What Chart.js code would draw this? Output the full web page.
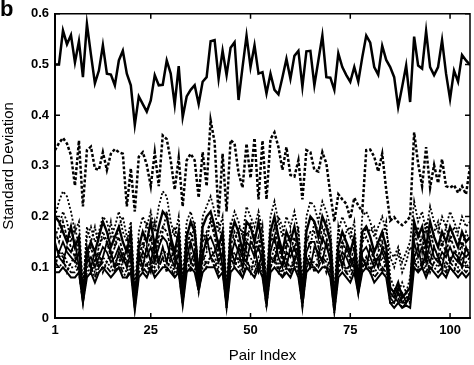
<!DOCTYPE html>
<html>
<head>
<meta charset="utf-8">
<script src="https://cdn.jsdelivr.net/npm/chart.js@4.4.1/dist/chart.umd.min.js"></script>
<style>
  html, body { margin: 0; padding: 0; background: #fff; }
  #wrap { position: relative; width: 474px; height: 365px; }
</style>
</head>
<body>
<div id="wrap"><canvas id="sdChart" width="474" height="365"></canvas></div>
<script>
// pair index 1..105
const pairIndex = [];
for (let i = 1; i <= 105; i++) pairIndex.push(i);

const xTickValues = [1, 25, 50, 75, 100];
const yTickValues = [0, 0.1, 0.2, 0.3, 0.4, 0.5, 0.6];

// top solid curve
const sdTop = [
  0.50, 0.50, 0.567, 0.540, 0.558, 0.504, 0.546, 0.475, 0.580, 0.52,
  0.463, 0.488, 0.538, 0.482, 0.480, 0.459, 0.508, 0.527, 0.482, 0.459,
  0.381, 0.437, 0.422, 0.407, 0.429, 0.479, 0.459, 0.460, 0.508, 0.482,
  0.421, 0.497, 0.396, 0.437, 0.450, 0.459, 0.422, 0.466, 0.475, 0.546,
  0.548, 0.472, 0.527, 0.479, 0.533, 0.544, 0.430, 0.495, 0.557, 0.495,
  0.538, 0.482, 0.485, 0.443, 0.482, 0.450, 0.441, 0.475, 0.511, 0.472,
  0.517, 0.527, 0.456, 0.526, 0.527, 0.459, 0.508, 0.557, 0.475, 0.474,
  0.450, 0.522, 0.495, 0.479, 0.466, 0.495, 0.466, 0.514, 0.557, 0.543,
  0.495, 0.480, 0.537, 0.509, 0.495, 0.475, 0.416, 0.456, 0.498, 0.426,
  0.555, 0.498, 0.492, 0.566, 0.495, 0.479, 0.495, 0.548, 0.482, 0.432,
  0.488, 0.466, 0.519, 0.508, 0.499
];

// heavy dashed curve around 0.3
const sdDashed = [
  0.331, 0.345, 0.355, 0.344, 0.321, 0.261, 0.350, 0.22, 0.331, 0.338,
  0.295, 0.292, 0.327, 0.292, 0.324, 0.333, 0.327, 0.324, 0.22, 0.295,
  0.21, 0.318, 0.327, 0.302, 0.260, 0.327, 0.260, 0.360, 0.353, 0.311,
  0.253, 0.316, 0.22, 0.311, 0.324, 0.311, 0.237, 0.327, 0.260, 0.390,
  0.347, 0.20, 0.324, 0.21, 0.351, 0.344, 0.286, 0.257, 0.344, 0.276,
  0.355, 0.234, 0.350, 0.234, 0.353, 0.366, 0.337, 0.292, 0.337, 0.282,
  0.279, 0.311, 0.234, 0.331, 0.327, 0.292, 0.289, 0.327, 0.305, 0.245,
  0.19, 0.244, 0.234, 0.225, 0.196, 0.237, 0.222, 0.21, 0.331, 0.332,
  0.318, 0.289, 0.324, 0.253, 0.192, 0.199, 0.189, 0.183, 0.19, 0.20,
  0.366, 0.305, 0.260, 0.337, 0.257, 0.302, 0.266, 0.313, 0.260, 0.257,
  0.262, 0.247, 0.260, 0.244, 0.299
];

const sdL1 = [
  0.20, 0.23, 0.25, 0.24, 0.21, 0.17, 0.19, 0.06, 0.16, 0.18,
  0.15, 0.17, 0.20, 0.19, 0.16, 0.18, 0.21, 0.17, 0.15, 0.19,
  0.05, 0.17, 0.20, 0.18, 0.21, 0.17, 0.22, 0.25, 0.24, 0.19,
  0.16, 0.20, 0.07, 0.19, 0.21, 0.18, 0.09, 0.20, 0.22, 0.24,
  0.21, 0.17, 0.20, 0.06, 0.18, 0.21, 0.19, 0.16, 0.22, 0.20,
  0.18, 0.21, 0.17, 0.07, 0.20, 0.23, 0.19, 0.16, 0.20, 0.18,
  0.21, 0.17, 0.07, 0.20, 0.23, 0.22, 0.19, 0.23, 0.21, 0.18,
  0.05, 0.17, 0.20, 0.18, 0.16, 0.19, 0.08, 0.20, 0.21, 0.19,
  0.16, 0.18, 0.20, 0.17, 0.13, 0.12, 0.14, 0.11, 0.13, 0.15,
  0.23, 0.19, 0.21, 0.17, 0.22, 0.19, 0.17, 0.20, 0.18, 0.21,
  0.19, 0.17, 0.20, 0.18, 0.19
];

const sdL2 = [
  0.20, 0.19, 0.17, 0.15, 0.18, 0.14, 0.16, 0.04, 0.13, 0.15,
  0.13, 0.16, 0.19, 0.17, 0.14, 0.16, 0.18, 0.15, 0.13, 0.17,
  0.03, 0.14, 0.17, 0.15, 0.19, 0.14, 0.18, 0.21, 0.20, 0.16,
  0.13, 0.17, 0.05, 0.16, 0.19, 0.17, 0.08, 0.18, 0.20, 0.21,
  0.18, 0.14, 0.17, 0.04, 0.16, 0.19, 0.17, 0.13, 0.19, 0.18,
  0.15, 0.19, 0.14, 0.05, 0.17, 0.20, 0.16, 0.13, 0.17, 0.15,
  0.18, 0.14, 0.05, 0.17, 0.20, 0.19, 0.16, 0.20, 0.18, 0.15,
  0.03, 0.14, 0.17, 0.15, 0.13, 0.16, 0.07, 0.17, 0.18, 0.16,
  0.13, 0.15, 0.17, 0.14, 0.06, 0.05, 0.07, 0.04, 0.05, 0.06,
  0.19, 0.16, 0.18, 0.14, 0.19, 0.16, 0.14, 0.17, 0.15, 0.18,
  0.16, 0.14, 0.17, 0.15, 0.16
];

const sdL3 = [
  0.17, 0.15, 0.19, 0.16, 0.14, 0.12, 0.15, 0.05, 0.12, 0.14,
  0.11, 0.14, 0.16, 0.15, 0.12, 0.14, 0.16, 0.13, 0.11, 0.15,
  0.04, 0.12, 0.15, 0.13, 0.16, 0.12, 0.16, 0.18, 0.17, 0.14,
  0.11, 0.15, 0.04, 0.14, 0.17, 0.14, 0.07, 0.15, 0.17, 0.19,
  0.16, 0.12, 0.15, 0.03, 0.14, 0.17, 0.15, 0.11, 0.17, 0.16,
  0.13, 0.16, 0.12, 0.04, 0.15, 0.18, 0.14, 0.11, 0.15, 0.13,
  0.16, 0.12, 0.04, 0.15, 0.17, 0.17, 0.14, 0.18, 0.16, 0.13,
  0.02, 0.12, 0.15, 0.13, 0.11, 0.14, 0.06, 0.15, 0.16, 0.14,
  0.11, 0.13, 0.15, 0.12, 0.05, 0.04, 0.06, 0.03, 0.04, 0.05,
  0.17, 0.14, 0.16, 0.12, 0.17, 0.14, 0.12, 0.15, 0.13, 0.16,
  0.14, 0.12, 0.15, 0.13, 0.14
];

const sdL4 = [
  0.14, 0.13, 0.15, 0.13, 0.12, 0.11, 0.13, 0.04, 0.11, 0.12,
  0.10, 0.12, 0.14, 0.13, 0.11, 0.12, 0.14, 0.12, 0.10, 0.13,
  0.03, 0.11, 0.13, 0.12, 0.14, 0.11, 0.14, 0.16, 0.15, 0.12,
  0.10, 0.13, 0.03, 0.12, 0.15, 0.12, 0.06, 0.13, 0.15, 0.16,
  0.14, 0.11, 0.13, 0.03, 0.12, 0.15, 0.13, 0.10, 0.15, 0.14,
  0.12, 0.14, 0.11, 0.03, 0.13, 0.16, 0.12, 0.10, 0.13, 0.12,
  0.14, 0.11, 0.03, 0.13, 0.15, 0.15, 0.12, 0.16, 0.14, 0.12,
  0.02, 0.11, 0.13, 0.12, 0.10, 0.12, 0.05, 0.13, 0.14, 0.12,
  0.10, 0.12, 0.13, 0.11, 0.04, 0.03, 0.05, 0.03, 0.03, 0.04,
  0.15, 0.12, 0.14, 0.11, 0.15, 0.12, 0.11, 0.13, 0.12, 0.14,
  0.12, 0.11, 0.13, 0.12, 0.13
];

const sdL5 = [
  0.12, 0.12, 0.13, 0.11, 0.10, 0.10, 0.11, 0.04, 0.10, 0.11,
  0.09, 0.11, 0.12, 0.11, 0.10, 0.11, 0.12, 0.10, 0.09, 0.11,
  0.03, 0.10, 0.12, 0.10, 0.12, 0.10, 0.12, 0.13, 0.13, 0.11,
  0.09, 0.11, 0.03, 0.11, 0.13, 0.11, 0.06, 0.11, 0.13, 0.14,
  0.12, 0.10, 0.11, 0.02, 0.11, 0.13, 0.11, 0.09, 0.13, 0.12,
  0.10, 0.12, 0.10, 0.03, 0.11, 0.14, 0.11, 0.09, 0.11, 0.10,
  0.12, 0.10, 0.03, 0.11, 0.13, 0.13, 0.11, 0.14, 0.12, 0.10,
  0.02, 0.10, 0.11, 0.10, 0.09, 0.11, 0.05, 0.11, 0.12, 0.11,
  0.09, 0.10, 0.12, 0.10, 0.12, 0.10, 0.13, 0.09, 0.11, 0.14,
  0.13, 0.11, 0.12, 0.10, 0.13, 0.11, 0.10, 0.12, 0.10, 0.12,
  0.11, 0.10, 0.12, 0.10, 0.11
];

const sdL6 = [
  0.11, 0.10, 0.11, 0.10, 0.09, 0.09, 0.10, 0.03, 0.09, 0.10,
  0.08, 0.10, 0.11, 0.10, 0.09, 0.10, 0.11, 0.09, 0.08, 0.10,
  0.02, 0.09, 0.10, 0.09, 0.11, 0.09, 0.10, 0.12, 0.11, 0.10,
  0.08, 0.10, 0.03, 0.10, 0.11, 0.10, 0.05, 0.10, 0.11, 0.12,
  0.11, 0.09, 0.10, 0.02, 0.10, 0.11, 0.10, 0.08, 0.11, 0.10,
  0.09, 0.11, 0.09, 0.02, 0.10, 0.12, 0.10, 0.08, 0.10, 0.09,
  0.11, 0.09, 0.02, 0.10, 0.11, 0.11, 0.10, 0.12, 0.11, 0.09,
  0.01, 0.09, 0.10, 0.09, 0.08, 0.10, 0.05, 0.10, 0.11, 0.10,
  0.08, 0.09, 0.10, 0.09, 0.03, 0.03, 0.04, 0.02, 0.03, 0.03,
  0.11, 0.10, 0.11, 0.09, 0.11, 0.10, 0.09, 0.10, 0.09, 0.11,
  0.10, 0.09, 0.10, 0.09, 0.10
];

const sdL7 = [
  0.09, 0.09, 0.10, 0.09, 0.08, 0.08, 0.09, 0.03, 0.08, 0.09,
  0.07, 0.09, 0.10, 0.09, 0.08, 0.09, 0.10, 0.08, 0.08, 0.09,
  0.015, 0.08, 0.09, 0.08, 0.10, 0.08, 0.09, 0.10, 0.10, 0.09,
  0.08, 0.09, 0.025, 0.09, 0.10, 0.09, 0.055, 0.09, 0.10, 0.10,
  0.10, 0.08, 0.09, 0.02, 0.09, 0.10, 0.09, 0.08, 0.10, 0.09,
  0.08, 0.10, 0.08, 0.025, 0.09, 0.10, 0.09, 0.08, 0.09, 0.08,
  0.10, 0.08, 0.025, 0.09, 0.10, 0.10, 0.09, 0.10, 0.10, 0.08,
  0.012, 0.08, 0.09, 0.08, 0.07, 0.09, 0.048, 0.09, 0.10, 0.09,
  0.07, 0.08, 0.09, 0.08, 0.03, 0.02, 0.03, 0.02, 0.025, 0.02,
  0.10, 0.09, 0.10, 0.08, 0.10, 0.09, 0.08, 0.09, 0.08, 0.10,
  0.09, 0.08, 0.09, 0.08, 0.09
];

const sdL8 = [
  0.16, 0.18, 0.21, 0.19, 0.15, 0.18, 0.14, 0.05, 0.18, 0.15,
  0.18, 0.14, 0.17, 0.15, 0.19, 0.14, 0.18, 0.20, 0.16, 0.13,
  0.04, 0.15, 0.13, 0.19, 0.15, 0.19, 0.14, 0.17, 0.21, 0.16,
  0.18, 0.14, 0.05, 0.17, 0.14, 0.19, 0.08, 0.17, 0.14, 0.20,
  0.17, 0.19, 0.14, 0.04, 0.19, 0.15, 0.18, 0.17, 0.14, 0.19,
  0.16, 0.13, 0.18, 0.05, 0.16, 0.15, 0.20, 0.18, 0.14, 0.17,
  0.13, 0.18, 0.05, 0.16, 0.14, 0.19, 0.17, 0.15, 0.19, 0.16,
  0.04, 0.18, 0.14, 0.17, 0.18, 0.13, 0.07, 0.15, 0.18, 0.17,
  0.18, 0.14, 0.16, 0.19, 0.08, 0.06, 0.05, 0.07, 0.05, 0.08,
  0.16, 0.18, 0.13, 0.19, 0.15, 0.17, 0.19, 0.14, 0.18, 0.15,
  0.18, 0.16, 0.14, 0.17, 0.15
];

const sdL9 = [
  0.15, 0.12, 0.11, 0.14, 0.13, 0.15, 0.10, 0.04, 0.14, 0.10,
  0.13, 0.10, 0.12, 0.15, 0.13, 0.10, 0.13, 0.11, 0.14, 0.12,
  0.02, 0.13, 0.10, 0.14, 0.11, 0.15, 0.11, 0.14, 0.11, 0.15,
  0.12, 0.10, 0.04, 0.15, 0.11, 0.13, 0.07, 0.12, 0.16, 0.12,
  0.13, 0.15, 0.10, 0.03, 0.14, 0.11, 0.14, 0.12, 0.11, 0.15,
  0.14, 0.10, 0.13, 0.04, 0.12, 0.11, 0.15, 0.12, 0.10, 0.14,
  0.11, 0.14, 0.04, 0.12, 0.10, 0.14, 0.13, 0.11, 0.15, 0.11,
  0.03, 0.13, 0.10, 0.14, 0.12, 0.10, 0.06, 0.12, 0.10, 0.14,
  0.12, 0.10, 0.14, 0.12, 0.05, 0.04, 0.06, 0.05, 0.03, 0.05,
  0.12, 0.14, 0.10, 0.13, 0.11, 0.14, 0.12, 0.10, 0.14, 0.11,
  0.13, 0.12, 0.10, 0.14, 0.12
];

const sdL10 = [
  0.10, 0.13, 0.12, 0.09, 0.11, 0.12, 0.09, 0.03, 0.12, 0.09,
  0.11, 0.13, 0.09, 0.11, 0.13, 0.09, 0.11, 0.13, 0.10, 0.12,
  0.03, 0.12, 0.09, 0.11, 0.09, 0.13, 0.10, 0.12, 0.09, 0.12,
  0.13, 0.09, 0.03, 0.12, 0.09, 0.12, 0.06, 0.13, 0.10, 0.12,
  0.10, 0.12, 0.09, 0.03, 0.12, 0.10, 0.12, 0.10, 0.12, 0.09,
  0.12, 0.09, 0.11, 0.03, 0.10, 0.12, 0.09, 0.11, 0.12, 0.09,
  0.12, 0.10, 0.03, 0.10, 0.12, 0.09, 0.11, 0.12, 0.09, 0.12,
  0.02, 0.10, 0.12, 0.09, 0.11, 0.12, 0.05, 0.10, 0.12, 0.09,
  0.11, 0.12, 0.09, 0.11, 0.04, 0.05, 0.03, 0.04, 0.05, 0.03,
  0.12, 0.09, 0.11, 0.12, 0.09, 0.11, 0.12, 0.09, 0.11, 0.10,
  0.09, 0.12, 0.10, 0.11, 0.12
];

function series(values, width, dash) {
  return {
    data: values.map((v, i) => ({ x: pairIndex[i], y: v })),
    borderColor: '#000',
    borderWidth: width,
    borderDash: dash,
    pointRadius: 0,
    tension: 0,
    fill: false
  };
}

// frame on top/right plus inward tick marks, and the panel letter
const framePlugin = {
  id: 'frame',
  afterDraw(chart) {
    const { ctx, chartArea: a, scales } = chart;
    ctx.save();
    ctx.strokeStyle = '#000';
    ctx.lineWidth = 1.5;
    ctx.beginPath();
    ctx.moveTo(a.left, a.top);
    ctx.lineTo(a.right, a.top);
    ctx.lineTo(a.right, a.bottom);
    ctx.stroke();
    ctx.beginPath();
    xTickValues.forEach(v => {
      const x = scales.x.getPixelForValue(v);
      ctx.moveTo(x, a.bottom); ctx.lineTo(x, a.bottom - 5);
      ctx.moveTo(x, a.top); ctx.lineTo(x, a.top + 5);
    });
    yTickValues.forEach(v => {
      const y = scales.y.getPixelForValue(v);
      ctx.moveTo(a.left, y); ctx.lineTo(a.left + 5, y);
      ctx.moveTo(a.right, y); ctx.lineTo(a.right - 5, y);
    });
    ctx.stroke();
    ctx.fillStyle = '#000';
    ctx.font = 'bold 22px "Liberation Sans", Arial, sans-serif';
    ctx.textBaseline = 'top';
    ctx.fillText('b', 0, -1);
    ctx.restore();
  }
};

const ctx = document.getElementById('sdChart').getContext('2d');
new Chart(ctx, {
  type: 'line',
  data: {
    datasets: [
      series(sdTop, 2.5, []),
      series(sdDashed, 2.5, [3, 2]),
      series(sdL1, 1.8, [2, 2]),
      series(sdL2, 2.4, []),
      series(sdL3, 1.8, [3, 2]),
      series(sdL4, 1.8, []),
      series(sdL5, 1.8, [2, 2]),
      series(sdL6, 1.8, [6, 2, 2, 2]),
      series(sdL7, 2, []),
      series(sdL8, 1.8, [2, 2]),
      series(sdL9, 1.8, []),
      series(sdL10, 1.8, [3, 2])
    ]
  },
  options: {
    responsive: false,
    animation: false,
    layout: { padding: { top: 7, right: 4, left: 0, bottom: 0 } },
    plugins: { legend: { display: false }, tooltip: { enabled: false } },
    scales: {
      x: {
        type: 'linear',
        min: 1,
        max: 105,
        afterBuildTicks: scale => { scale.ticks = xTickValues.map(v => ({ value: v })); },
        afterFit: scale => { scale.height = 47; },
        grid: { display: false, drawTicks: false },
        border: { display: true, color: '#000', width: 2 },
        ticks: {
          color: '#000',
          padding: 5,
          maxRotation: 0,
          font: { family: '"Liberation Sans", Arial, sans-serif', size: 13, weight: 'bold' }
        },
        title: {
          display: true,
          text: 'Pair Index',
          color: '#000',
          padding: { top: 12, bottom: 0 },
          font: { family: '"Liberation Sans", Arial, sans-serif', size: 15 }
        }
      },
      y: {
        min: 0,
        max: 0.6,
        afterBuildTicks: scale => { scale.ticks = yTickValues.map(v => ({ value: v })); },
        afterFit: scale => { scale.width = 55; },
        grid: { display: false, drawTicks: false },
        border: { display: true, color: '#000', width: 2 },
        ticks: {
          color: '#000',
          padding: 6,
          callback: v => (v === 0 ? '0' : v.toFixed(1)),
          font: { family: '"Liberation Sans", Arial, sans-serif', size: 13, weight: 'bold' }
        },
        title: {
          display: true,
          text: 'Standard Deviation',
          color: '#000',
          padding: { top: 0, bottom: 0 },
          font: { family: '"Liberation Sans", Arial, sans-serif', size: 15 }
        }
      }
    }
  },
  plugins: [framePlugin]
});
</script>
</body>
</html>
